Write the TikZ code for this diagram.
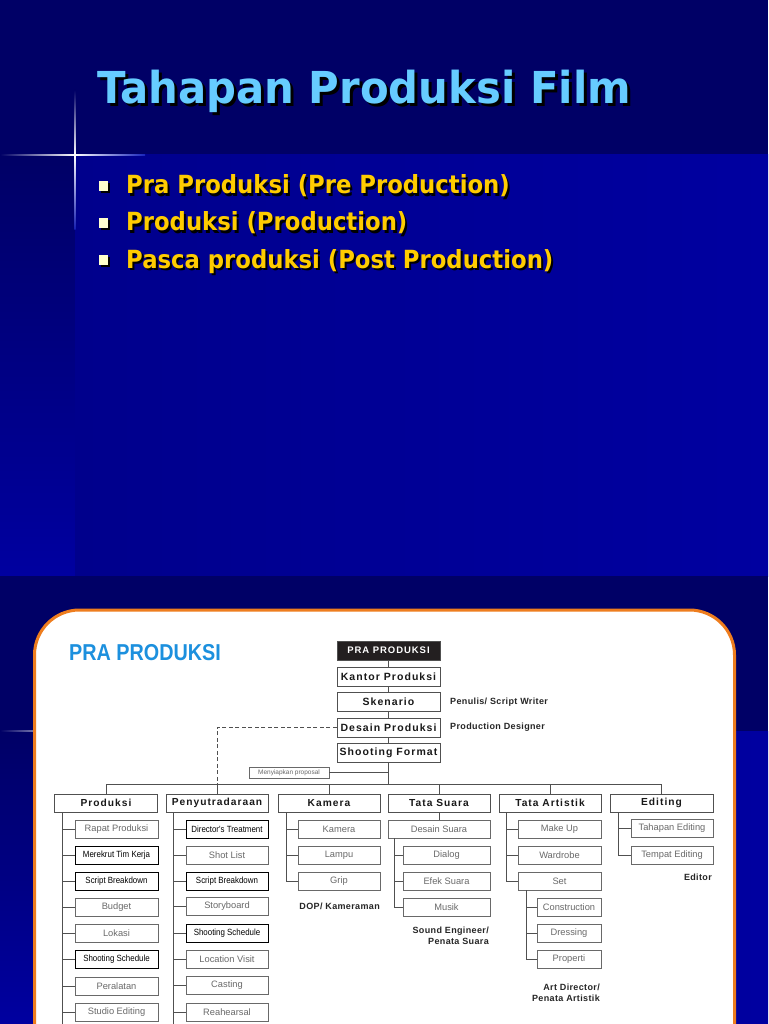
\documentclass[tikz,border=0pt]{standalone}
\usepackage{fontspec}
\usepackage{tikz}
\usetikzlibrary{positioning}
\setmainfont{Liberation Sans}
\newfontfamily\slideTitleFont[FakeStretch=0.95]{DejaVu Sans}
\newfontfamily\slideBulletFont[FakeStretch=0.91]{DejaVu Sans}
\newfontfamily\headingFont[FakeStretch=0.86]{Liberation Sans}
\newfontfamily\wideFont[LetterSpace=10]{Liberation Sans}
\newfontfamily\roleFont[LetterSpace=4]{Liberation Sans}
\newfontfamily\narrowFont[FakeStretch=0.88]{Liberation Sans}
\definecolor{navyBack}{RGB}{0,0,102}
\definecolor{blueMid}{RGB}{0,0,140}
\definecolor{blueBright}{RGB}{0,0,160}
\definecolor{flareBlue}{RGB}{60,90,255}
\definecolor{titleBlue}{RGB}{102,204,255}
\definecolor{bulletYellow}{RGB}{255,204,0}
\definecolor{bulletSquare}{RGB}{255,255,204}
\definecolor{panelOrange}{RGB}{238,125,30}
\definecolor{headBlue}{RGB}{28,144,222}
\definecolor{itemGray}{RGB}{105,105,105}
\definecolor{lineGray}{RGB}{80,80,80}
\definecolor{boxBlack}{RGB}{35,31,32}
\tikzstyle{slide} = [x = 1pt, y = -1pt]
\tikzstyle{titleText} = [anchor=base west, inner sep=0pt, font=\slideTitleFont\bfseries\fontsize{44}{50}\selectfont]
\tikzstyle{bulletText} = [anchor=base west, inner sep=0pt, font=\slideBulletFont\bfseries\fontsize{25}{30}\selectfont]
\tikzstyle{bulletMark} = [fill=bulletSquare, minimum size=9.5pt, inner sep=0pt]
\tikzstyle{panelLine} = [draw=panelOrange, fill=white, line width=3pt, rounded corners=45pt]
\tikzstyle{link} = [draw=lineGray, line width=.9pt]
\tikzstyle{stackBox} = [draw=lineGray, fill=white, line width=.9pt, minimum width=103pt, minimum height=19pt, inner sep=0pt, text=black!90, font=\wideFont\bfseries\fontsize{10.5}{12}\selectfont]
\tikzstyle{topBox} = [stackBox, fill=boxBlack, text=white, font=\wideFont\bfseries\fontsize{9.5}{11}\selectfont]
\tikzstyle{headBox} = [stackBox, minimum height=18pt, font=\wideFont\bfseries\fontsize{10.2}{12}\selectfont]
\tikzstyle{itemBox} = [draw=itemGray, fill=white, line width=.8pt, minimum width=83pt, minimum height=18pt, inner sep=0pt, text=itemGray, font=\fontsize{9.3}{11}\selectfont]
\tikzstyle{itemDark} = [itemBox, draw=black, text=black, font=\narrowFont\fontsize{9}{11}\selectfont]
\tikzstyle{proposalBox} = [draw=itemGray, fill=white, line width=.6pt, minimum width=80pt, minimum height=11pt, inner sep=0pt, text=itemGray, font=\fontsize{6.5}{7}\selectfont]
\tikzstyle{roleText} = [inner sep=0pt, text=black!85, font=\roleFont\bfseries\fontsize{9}{11}\selectfont]
\newcommand{\shadowText}[3]{\rlap{\kern#1\raisebox{-#1}{\color{black}#3}}\textcolor{#2}{#3}}
\newcommand{\flare}[2]{
  \shade [left color=navyBack, right color=white] (0,#2 - .6) rectangle (#1,#2 + .6);
  \shade [left color=white, right color=flareBlue!40!blueMid] (#1,#2 - .6) rectangle (#1 + 70,#2 + .6);
  \shade [top color=navyBack, bottom color=white] (#1 - .6,#2 - 65) rectangle (#1 + .6,#2);
  \shade [top color=white, bottom color=flareBlue!30!blueMid] (#1 - .6,#2) rectangle (#1 + .6,#2 + 75);
}

\begin{document}
\begin{tikzpicture}[slide]
  \useasboundingbox (0,0) rectangle (768,1024);
  \clip (0,0) rectangle (768,1024);

  % first slide
  \fill [navyBack] (0,0) rectangle (768,155);
  \shade [top color=navyBack, bottom color=blueBright] (0,155) rectangle (75,576);
  \shade [left color=blueMid, right color=blueBright] (75,155) rectangle (768,576);
  \flare{75}{155}

  \node [titleText] (title) at (97,104) {\shadowText{3pt}{titleBlue}{Tahapan Produksi Film}};

  \foreach \name/\txt/\ypos in {pre/Pra Produksi (Pre Production)/194,
      prod/Produksi (Production)/231, post/Pasca produksi (Post Production)/268} {
    \node [bulletMark, fill=black] (\name MarkShadow) at (105.5,\ypos - 6) {};
    \node [bulletMark] (\name Mark) at (103.5,\ypos - 8) {};
    \node [bulletText] (\name) at (126,\ypos) {\shadowText{2pt}{bulletYellow}{\txt}};
  }

  % second slide
  \fill [navyBack] (0,576) rectangle (768,731);
  \shade [top color=navyBack, bottom color=blueBright] (0,731) rectangle (75,1024);
  \shade [left color=blueMid, right color=blueBright] (75,731) rectangle (768,1024);
  \flare{75}{731}
  \draw [panelLine] (34.5,610) rectangle (734.5,1090);

  \node [anchor=base west, inner sep=0pt, text=headBlue, font=\headingFont\bfseries\fontsize{23}{26}\selectfont] (heading) at (69,660) {PRA PRODUKSI};

  % top stack
  \node [topBox] (praBox) at (388.5,650.5) {PRA PRODUKSI};
  \node [stackBox] (kantor) at (388.5,676.5) {Kantor Produksi};
  \node [stackBox] (skenario) at (388.5,702) {Skenario};
  \node [stackBox] (desain) at (388.5,727.5) {Desain Produksi};
  \node [stackBox] (shooting) at (388.5,753) {Shooting Format};
  \draw [link] (praBox) -- (kantor);
  \draw [link] (kantor) -- (skenario);
  \draw [link] (skenario) -- (desain);
  \draw [link] (desain) -- (shooting);
  \node [roleText, anchor=west] (penulis) at (450,702) {Penulis/ Script Writer};
  \node [roleText, anchor=west] (designer) at (450,727.5) {Production Designer};
  \node [proposalBox] (proposal) at (289,772.5) {Menyiapkan proposal};

  % departments
  \node [headBox] (produksi) at (106,803) {Produksi};
  \node [headBox, minimum width=102pt] (penyut) at (217,803) {Penyutradaraan};
  \node [headBox, minimum width=102pt] (kamera) at (329,803) {Kamera};
  \node [headBox, minimum width=102pt] (suara) at (439,803) {Tata Suara};
  \node [headBox, minimum width=102pt] (artistik) at (550,803) {Tata Artistik};
  \node [headBox] (editing) at (661.5,803) {Editing};
  \coordinate (busL) at (106,784);
  \coordinate (busR) at (661.5,784);
  \draw [link] (busL) -- (busR);
  \foreach \h in {produksi, penyut, kamera, suara, artistik, editing}
    \draw [link] (\h.north) -- (\h.north |- busL);
  \draw [link] (shooting) -- (shooting |- busL);
  \draw [link] (proposal) -- (proposal -| shooting);
  \draw [link, dash pattern=on 4pt off 2.5pt] (desain) -| (penyut.north |- busL);

  % produksi
  \coordinate (prodRail) at (62,812);
  \coordinate (prodEnd) at (62,1030);
  \draw [link] (produksi.south -| prodRail) -- (prodEnd);
  \foreach \name/\txt/\ypos/\kind in {prodA/Rapat Produksi/829/itemBox,
      prodB/Merekrut Tim Kerja/855/itemDark, prodC/Script Breakdown/881/itemDark,
      prodD/Budget/907/itemBox, prodE/Lokasi/933/itemBox,
      prodF/Shooting Schedule/959/itemDark, prodG/Peralatan/986/itemBox,
      prodH/Studio Editing/1012/itemBox} {
    \node [\kind] (\name) at (116.5,\ypos) {\txt};
    \draw [link] (\name.west -| prodRail) -- (\name.west);
  }

  % penyutradaraan
  \coordinate (dirRail) at (173,812);
  \coordinate (dirEnd) at (173,1030);
  \draw [link] (penyut.south -| dirRail) -- (dirEnd);
  \foreach \name/\txt/\ypos/\kind in {dirA/Director's Treatment/829/itemDark,
      dirB/Shot List/855/itemBox, dirC/Script Breakdown/881/itemDark,
      dirD/Storyboard/906/itemBox, dirE/Shooting Schedule/933/itemDark,
      dirF/Location Visit/959/itemBox, dirG/Casting/985/itemBox,
      dirH/Reahearsal/1012/itemBox} {
    \node [\kind, minimum width=82pt] (\name) at (227,\ypos) {\txt};
    \draw [link] (\name.west -| dirRail) -- (\name.west);
  }

  % kamera
  \coordinate (kamRail) at (286,812);
  \foreach \name/\txt/\ypos in {kamA/Kamera/829, kamB/Lampu/855, kamC/Grip/881} {
    \node [itemBox, minimum width=82pt] (\name) at (339,\ypos) {\txt};
    \draw [link] (\name.west -| kamRail) -- (\name.west);
  }
  \draw [link] (kamera.south -| kamRail) -- (kamC.west -| kamRail);
  \node [roleText, anchor=east] (dop) at (380,906) {DOP/ Kameraman};

  % tata suara
  \node [itemBox, minimum width=102pt] (desainSuara) at (439,829) {Desain Suara};
  \draw [link] (suara) -- (desainSuara);
  \coordinate (suaRail) at (394,838);
  \foreach \name/\txt/\ypos in {suaA/Dialog/855, suaB/Efek Suara/881, suaC/Musik/907} {
    \node [itemBox, minimum width=87pt] (\name) at (446.5,\ypos) {\txt};
    \draw [link] (\name.west -| suaRail) -- (\name.west);
  }
  \draw [link] (desainSuara.south -| suaRail) -- (suaC.west -| suaRail);
  \node [roleText, anchor=east, align=right] (soundEng) at (489,936) {Sound Engineer/\\Penata Suara};

  % tata artistik
  \coordinate (artRail) at (506,812);
  \foreach \name/\txt/\ypos in {artA/Make Up/829, artB/Wardrobe/855, artC/Set/881} {
    \node [itemBox] (\name) at (559.5,\ypos) {\txt};
    \draw [link] (\name.west -| artRail) -- (\name.west);
  }
  \draw [link] (artistik.south -| artRail) -- (artC.west -| artRail);
  \coordinate (setRail) at (526,890);
  \foreach \name/\txt/\ypos in {setA/Construction/907, setB/Dressing/933, setC/Properti/959} {
    \node [itemBox, minimum width=64pt] (\name) at (569,\ypos) {\txt};
    \draw [link] (\name.west -| setRail) -- (\name.west);
  }
  \draw [link] (artC.south -| setRail) -- (setC.west -| setRail);
  \node [roleText, anchor=east, align=right] (artDir) at (600,993) {Art Director/\\Penata Artistik};

  % editing
  \coordinate (ediRail) at (618,812);
  \foreach \name/\txt/\ypos in {ediA/Tahapan Editing/828, ediB/Tempat Editing/855} {
    \node [itemBox, minimum width=82pt] (\name) at (672,\ypos) {\txt};
    \draw [link] (\name.west -| ediRail) -- (\name.west);
  }
  \draw [link] (editing.south -| ediRail) -- (ediB.west -| ediRail);
  \node [roleText, anchor=east] (editor) at (712,877) {Editor};
\end{tikzpicture}
\end{document}
